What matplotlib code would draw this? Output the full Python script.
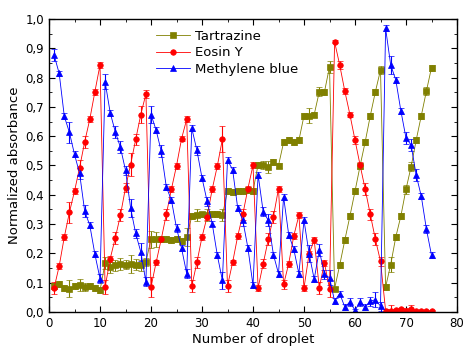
import matplotlib
matplotlib.use("Agg")
import matplotlib.pyplot as plt
from matplotlib.ticker import MultipleLocator, FuncFormatter
import numpy as np

droplet = list(range(1, 76))

tartrazine = [0.09, 0.095, 0.083, 0.08, 0.088, 0.091, 0.085, 0.09, 0.083, 0.074,
              0.167, 0.152, 0.159, 0.165, 0.162, 0.163, 0.162, 0.159, 0.171, 0.248,
              0.248, 0.248, 0.248, 0.247, 0.248, 0.242, 0.256, 0.327, 0.33, 0.333,
              0.33, 0.335, 0.335, 0.33, 0.413, 0.41, 0.413, 0.413, 0.417, 0.413,
              0.503, 0.502, 0.496, 0.513, 0.5, 0.579, 0.586, 0.579, 0.586, 0.67,
              0.67, 0.674, 0.752, 0.75, 0.837, 0.08, 0.16, 0.245, 0.327, 0.412,
              0.499, 0.581, 0.67, 0.752, 0.826, 0.085, 0.162, 0.256, 0.328, 0.419,
              0.496, 0.587, 0.67, 0.754, 0.834]
tartrazine_err = [0.01, 0.01, 0.01, 0.03, 0.01, 0.02, 0.015, 0.01, 0.01, 0.01,
                  0.02, 0.02, 0.02, 0.02, 0.015, 0.03, 0.02, 0.02, 0.015, 0.03,
                  0.025, 0.01, 0.01, 0.01, 0.01, 0.01, 0.03, 0.01, 0.02, 0.01,
                  0.02, 0.01, 0.01, 0.02, 0.01, 0.01, 0.01, 0.01, 0.01, 0.01,
                  0.01, 0.015, 0.02, 0.01, 0.01, 0.01, 0.01, 0.01, 0.01, 0.01,
                  0.025, 0.01, 0.015, 0.01, 0.02, 0.005, 0.01, 0.01, 0.01, 0.01,
                  0.01, 0.01, 0.01, 0.01, 0.015, 0.01, 0.025, 0.01, 0.01, 0.015,
                  0.015, 0.01, 0.01, 0.015, 0.01]

eosin = [0.082, 0.157, 0.256, 0.34, 0.412, 0.493, 0.581, 0.658, 0.752, 0.843,
         0.085, 0.182, 0.253, 0.33, 0.424, 0.503, 0.589, 0.674, 0.744, 0.085,
         0.169, 0.248, 0.333, 0.419, 0.499, 0.592, 0.658, 0.089, 0.169, 0.256,
         0.325, 0.419, 0.498, 0.59, 0.089, 0.169, 0.259, 0.333, 0.421, 0.501,
         0.082, 0.165, 0.248, 0.325, 0.421, 0.094, 0.165, 0.26, 0.33, 0.082,
         0.199, 0.245, 0.083, 0.168, 0.08, 0.922, 0.843, 0.754, 0.674, 0.587,
         0.501, 0.419, 0.333, 0.248, 0.173, 0.005, 0.005, 0.006, 0.01, 0.005,
         0.01, 0.005, 0.003, 0.003, 0.003]
eosin_err = [0.02, 0.01, 0.01, 0.035, 0.01, 0.025, 0.02, 0.01, 0.01, 0.01,
             0.025, 0.01, 0.02, 0.02, 0.015, 0.04, 0.02, 0.03, 0.015, 0.035,
             0.01, 0.01, 0.02, 0.01, 0.01, 0.01, 0.01, 0.02, 0.02, 0.01,
             0.01, 0.01, 0.01, 0.045, 0.02, 0.01, 0.01, 0.02, 0.01, 0.01,
             0.01, 0.015, 0.02, 0.02, 0.01, 0.015, 0.01, 0.01, 0.01, 0.01,
             0.01, 0.01, 0.02, 0.01, 0.03, 0.005, 0.015, 0.01, 0.01, 0.015,
             0.01, 0.02, 0.02, 0.02, 0.015, 0.005, 0.02, 0.005, 0.005, 0.01,
             0.015, 0.003, 0.003, 0.003, 0.003]

methylene = [0.877, 0.814, 0.668, 0.613, 0.538, 0.473, 0.344, 0.296, 0.197, 0.114,
             0.786, 0.68, 0.615, 0.562, 0.484, 0.355, 0.268, 0.205, 0.103, 0.674,
             0.621, 0.549, 0.427, 0.382, 0.287, 0.217, 0.131, 0.627, 0.552, 0.458,
             0.378, 0.302, 0.194, 0.108, 0.518, 0.486, 0.355, 0.313, 0.219, 0.091,
             0.469, 0.342, 0.313, 0.196, 0.131, 0.393, 0.264, 0.214, 0.131, 0.313,
             0.199, 0.112, 0.211, 0.128, 0.117, 0.037, 0.063, 0.017, 0.034, 0.006,
             0.034, 0.017, 0.037, 0.042, 0.02, 0.968, 0.843, 0.792, 0.686, 0.594,
             0.57, 0.467, 0.395, 0.283, 0.194]
methylene_err = [0.02, 0.01, 0.01, 0.035, 0.01, 0.02, 0.02, 0.01, 0.01, 0.015,
                 0.025, 0.01, 0.02, 0.02, 0.015, 0.03, 0.015, 0.03, 0.015, 0.03,
                 0.01, 0.02, 0.01, 0.01, 0.015, 0.01, 0.015, 0.01, 0.015, 0.01,
                 0.015, 0.01, 0.01, 0.03, 0.01, 0.01, 0.01, 0.02, 0.01, 0.01,
                 0.01, 0.015, 0.02, 0.01, 0.01, 0.01, 0.01, 0.01, 0.01, 0.01,
                 0.03, 0.01, 0.02, 0.015, 0.025, 0.01, 0.01, 0.01, 0.015, 0.005,
                 0.015, 0.01, 0.015, 0.025, 0.015, 0.01, 0.03, 0.01, 0.01, 0.02,
                 0.02, 0.02, 0.01, 0.015, 0.01]

series_names = ["Tartrazine", "Eosin Y", "Methylene blue"]

fig = plt.figure(figsize=(4.74, 3.47), dpi=100)
ax = fig.add_axes([49/474, 1 - 312/347, (457-49)/474, (312-19)/347])

styles = [
    (tartrazine, tartrazine_err, "#808000", "s", 3.8),
    (eosin, eosin_err, "#ff0000", "o", 4.0),
    (methylene, methylene_err, "#0000ff", "^", 4.5),
]
handles = []
for (vals, errs, col, mk, ms), name in zip(styles, series_names):
    c = ax.errorbar(droplet, vals, yerr=errs, color=col, marker=mk, markersize=ms,
                    markeredgewidth=0.5, linewidth=0.6, elinewidth=0.8,
                    capsize=2.2, capthick=0.8)
    c[0].set_alpha(1.0)
    handles.append(c[0])

ax.set_xlim(0, 80)
ax.set_ylim(0, 1.0)
ax.xaxis.set_major_locator(MultipleLocator(10))
ax.xaxis.set_minor_locator(MultipleLocator(5))
ax.yaxis.set_major_locator(MultipleLocator(0.1))
ax.yaxis.set_minor_locator(MultipleLocator(0.05))
ax.yaxis.set_major_formatter(FuncFormatter(lambda v, p: f"{v:.1f}".replace(".", ",")))
ax.tick_params(which="both", direction="in", top=True, right=True, labelsize=8.5)
ax.tick_params(which="major", length=4)
ax.tick_params(which="minor", length=2.5)
for s in ax.spines.values():
    s.set_linewidth(1.0)

ax.set_xlabel("Number of droplet", fontsize=9.5, labelpad=2)
ax.set_ylabel("Normalized absorbance", fontsize=9.5, labelpad=3)

leg = ax.legend(handles, series_names, loc="upper left",
                bbox_to_anchor=(0.245, 0.985), frameon=False,
                fontsize=9.5, handlelength=2.6, handletextpad=0.4,
                labelspacing=0.25, borderpad=0)

fig.savefig("out.png", dpi=100)
